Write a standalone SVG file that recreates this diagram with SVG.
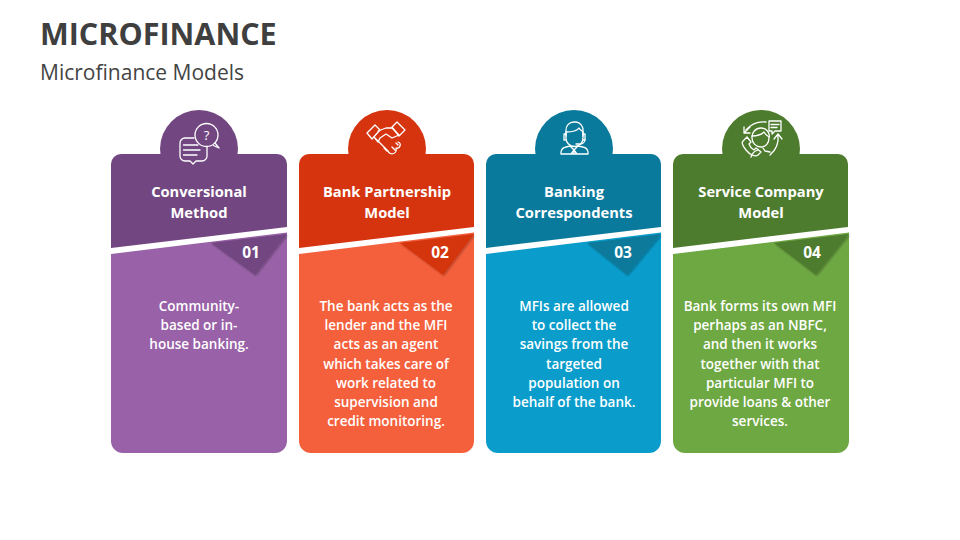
<svg xmlns="http://www.w3.org/2000/svg" width="960" height="540" viewBox="0 0 960 540">
<defs>
<filter id="sh" x="-30%" y="-30%" width="160%" height="160%"><feDropShadow dx="1" dy="1" stdDeviation="1" flood-color="#000" flood-opacity="0.3"/></filter>
</defs>
<style>
text{font-family:"Open Sans","Liberation Sans",sans-serif}
.hd{font-size:14.700px;font-weight:700;fill:#fff;text-anchor:middle}
.body{font-size:13.500px;font-weight:600;fill:#fff;text-anchor:middle}
.num{font-size:15.500px;font-weight:700;fill:#fff;text-anchor:middle}
.ic{fill:none;stroke:#fff;stroke-width:1.3;stroke-linejoin:round;stroke-linecap:round}
</style>
<rect width="960" height="540" fill="#fff"/>
<g id="title"><text x="40" y="45" font-size="30.500" font-weight="700" fill="#3f3f3f">MICROFINANCE</text>
<text x="40" y="80" font-size="21" fill="#444">Microfinance Models</text></g>

<g id="card1">
<path fill="#9962a8" d="M111 254L287 232.500V441a12 12 0 0 1-12 12H123a12 12 0 0 1-12-12Z"/>
<circle cx="199" cy="149" r="39" fill="#724781"/>
<path fill="#724781" d="M111 164a10 10 0 0 1 10-10H277a10 10 0 0 1 10 10V227L111 248Z"/>
<path fill="#724781" filter="url(#sh)" d="M211 243L287 234L255 275Z"/>
<text class="hd" x="199" y="196.500">Conversional</text><text class="hd" x="199" y="217.500">Method</text>
<text class="num" x="251" y="258">01</text>
<text class="body"><tspan x="199" y="311">Community-</tspan><tspan x="199" y="330">based or in-</tspan><tspan x="199" y="349">house banking.</tspan></text>
<g class="ic"><circle cx="206.500" cy="135" r="11.500"/><path d="M215 143L219 148L213.500 145.500"/>
<path d="M194 138H185a5 5 0 0 0-5 5V156a5 5 0 0 0 5 5h5l3 3l3-3h6a5 5 0 0 0 5-5V147"/><path d="M183.500 145H198M183.500 150H200M183.500 155H197"/></g>
<text x="206.500" y="140" font-size="13" fill="#fff" text-anchor="middle">?</text>
</g>

<g id="card2">
<path fill="#f5603c" d="M299 254L474 232.500V441a12 12 0 0 1-12 12H311a12 12 0 0 1-12-12Z"/>
<circle cx="387" cy="149" r="39" fill="#d5340f"/>
<path fill="#d5340f" d="M299 164a10 10 0 0 1 10-10H464a10 10 0 0 1 10 10V227L299 248Z"/>
<path fill="#d5340f" filter="url(#sh)" d="M400 243L474 234L443 275Z"/>
<text class="hd" x="387" y="196.500">Bank Partnership</text><text class="hd" x="387" y="217.500">Model</text>
<text class="num" x="440" y="258">02</text>
<text class="body"><tspan x="386" y="311">The bank acts as the</tspan><tspan x="386" y="330">lender and the MFI</tspan><tspan x="386" y="349">acts as an agent</tspan><tspan x="386" y="369">which takes care of</tspan><tspan x="386" y="388">work related to</tspan><tspan x="386" y="407">supervision and</tspan><tspan x="386" y="426">credit monitoring.</tspan></text>
<g class="ic"><path d="M367 133L375 125L380 130L372 139Z"/><path d="M392 127L397 122L405 130L399 136Z"/><path d="M378 131L386 128L392 128L399 135L392 138L386 134L380 138L378 142L374 137M375 138L388 151a3 3 0 0 0 8-3a3 3 0 0 0 2-6M392 147L395 150M396 143L398 145M384 148L387 151"/></g>
</g>

<g id="card3">
<path fill="#0a9dcb" d="M486 254L661 232.500V441a12 12 0 0 1-12 12H498a12 12 0 0 1-12-12Z"/>
<circle cx="574" cy="149" r="39" fill="#0a7a9c"/>
<path fill="#0a7a9c" d="M486 164a10 10 0 0 1 10-10H651a10 10 0 0 1 10 10V227L486 248Z"/>
<path fill="#0a7a9c" filter="url(#sh)" d="M587 243L661 234L627 275Z"/>
<text class="hd" x="574" y="196.500">Banking</text><text class="hd" x="574" y="217.500">Correspondents</text>
<text class="num" x="623" y="258">03</text>
<text class="body"><tspan x="574" y="311">MFIs are allowed</tspan><tspan x="574" y="330">to collect the</tspan><tspan x="574" y="349">savings from the</tspan><tspan x="574" y="369">targeted</tspan><tspan x="574" y="388">population on</tspan><tspan x="574" y="407">behalf of the bank.</tspan></text>
<g class="ic"><path d="M566 136V131a8 8 0 0 1 8-9h2a8 8 0 0 1 7 9V136"/><path d="M566 132c5 0 11-1 13-4c1 2 3 3 4 4V138a8.500 8.500 0 0 1-17 0Z"/><path d="M566 134h-2v6h2M583 134h2v6h-2"/><path d="M585 140a5 5 0 0 1-6 4h-3"/><path d="M561 154V152a6 6 0 0 1 5-5l4-1l4 4l4-4l5 1a6 6 0 0 1 5 5v2ZM574 150V154M571 154L574 150L577 154"/></g>
</g>

<g id="card4">
<path fill="#6ea843" d="M673 254L849 232.500V441a12 12 0 0 1-12 12H685a12 12 0 0 1-12-12Z"/>
<circle cx="761" cy="149" r="39" fill="#4e7c2f"/>
<path fill="#4e7c2f" d="M673 164a10 10 0 0 1 10-10H838a10 10 0 0 1 10 10V227L673 248Z"/>
<path fill="#4e7c2f" filter="url(#sh)" d="M774 243L849 234L816 275Z"/>
<text class="hd" x="761" y="196.500">Service Company</text><text class="hd" x="761" y="217.500">Model</text>
<text class="num" x="812" y="258">04</text>
<text class="body"><tspan x="760" y="311">Bank forms its own MFI</tspan><tspan x="760" y="330">perhaps as an NBFC,</tspan><tspan x="760" y="349">and then it works</tspan><tspan x="760" y="369">together with that</tspan><tspan x="760" y="388">particular MFI to</tspan><tspan x="760" y="407">provide loans &amp; other</tspan><tspan x="760" y="426">services.</tspan></text>
<g class="ic"><path d="M769 121H781V131H775L772 134V131H769Z"/><path d="M771 124.500H779M771 127.500H777"/><path d="M766 122A23 23 0 0 0 746 130M750 127L744 133M744 127V133H750"/><path d="M778 135A23 23 0 0 1 770 155M778 134L774 139M778 134L782 139"/><path d="M752 138a9 9 0 0 1 9-10a8 8 0 0 1 8 10c0 5-3 9-8 9s-9-4-9-9Z"/><path d="M752 136c5 0 9-1 12-4c1 2 3 4 5 5"/><path d="M751 157c1-4 4-6 7-7M763 148l2 3l5 1"/><path d="M744 140l3-3l4 5l-2 2c1 3 3 5 5 6l2-2l5 4l-3 3c-3 2-8 0-12-5s-5-8-2-10Z"/></g>
</g>
</svg>
